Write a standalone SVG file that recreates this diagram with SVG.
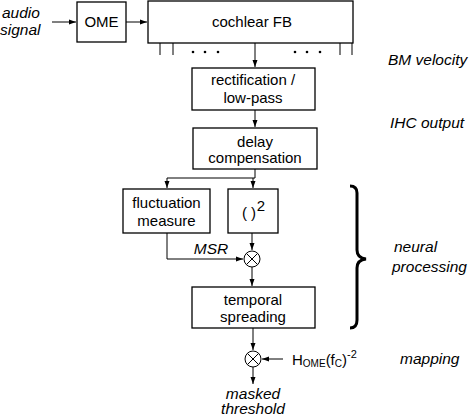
<svg xmlns="http://www.w3.org/2000/svg" width="474" height="418" viewBox="0 0 474 418">
<style>
.box{fill:#fff;stroke:#000;stroke-width:1.3}
.t{font-family:"Liberation Sans",Arial,sans-serif;font-size:15px;fill:#000;text-anchor:middle}
.i{font-family:"Liberation Sans",Arial,sans-serif;font-size:15.5px;font-style:italic;fill:#000}
.c{fill:none;stroke:#000;stroke-width:1}
</style>
<defs>
<marker id="a" markerWidth="8" markerHeight="8" refX="7" refY="4" orient="auto" markerUnits="userSpaceOnUse">
<path d="M0,1.5 L7,4 L0,6.5 Z" fill="#000"/>
</marker>
</defs>
<rect width="474" height="418" fill="#fff"/>
<g id="input-label">
<text class="i" x="2" y="18">audio</text>
<text class="i" x="0" y="35">signal</text>
</g>
<g id="ome"><rect class="box" x="77" y="2" width="49" height="40"/><text class="t" x="101.5" y="27">OME</text></g>
<g id="cochlear"><rect class="box" x="148" y="1" width="205" height="42"/><text class="t" x="252" y="27">cochlear FB</text></g>
<g id="rect"><rect class="box" x="192" y="68" width="123" height="42"/><text class="t" x="253" y="85">rectification /</text><text class="t" x="253" y="103">low-pass</text></g>
<g id="delay"><rect class="box" x="193" y="128" width="124" height="41"/><text class="t" x="255" y="147">delay</text><text class="t" x="255" y="163">compensation</text></g>
<g id="fluct"><rect class="box" x="123" y="189" width="87" height="44"/><text class="t" x="166.5" y="208">fluctuation</text><text class="t" x="166.5" y="226">measure</text></g>
<g id="square"><rect class="box" x="228" y="189" width="50" height="44"/><text class="t" x="249" y="218">( )</text><text class="t" x="261" y="211" font-size="11">2</text></g>
<g id="mult1"><circle class="c" cx="252" cy="259" r="8"/><path class="c" d="M246.5,253.5 L257.5,264.5 M257.5,253.5 L246.5,264.5"/></g>
<g id="temporal"><rect class="box" x="192" y="287" width="123" height="41"/><text class="t" x="253" y="305">temporal</text><text class="t" x="253" y="322">spreading</text></g>
<g id="mult2"><circle class="c" cx="253" cy="359" r="8"/><path class="c" d="M247.5,353.5 L258.5,364.5 M258.5,353.5 L247.5,364.5"/></g>
<g id="hterm"><text font-family="Liberation Sans,Arial,sans-serif" font-size="15" x="292" y="365">H<tspan font-size="10" dy="2">OME</tspan><tspan dy="-2">(f</tspan><tspan font-size="10" dy="2">C</tspan><tspan dy="-2">)</tspan><tspan font-size="11" dy="-7">-2</tspan></text></g>
<g id="output-label"><text class="i" x="253" y="399" text-anchor="middle">masked</text><text class="i" x="253" y="414" text-anchor="middle">threshold</text></g>
<g id="side-labels">
<text class="i" x="388" y="65">BM velocity</text>
<text class="i" x="390" y="128">IHC output</text>
<text class="i" x="394" y="252">neural</text>
<text class="i" x="392" y="272">processing</text>
<text class="i" x="400" y="364">mapping</text>
<text class="i" x="211" y="254" text-anchor="middle">MSR</text>
</g>
<g id="brace"><path d="M350,186 Q357,186 357,193 L357,250 Q357,258 366,259 Q357,260 357,268 L357,320 Q357,328 350,328" fill="none" stroke="#000" stroke-width="3"/></g>
<g id="connectors">
<path class="c" d="M52,22 L76,22" marker-end="url(#a)"/>
<path class="c" d="M126,22 L147,22" marker-end="url(#a)"/>
<path class="c" d="M160,43 V55 M173,43 V55 M340,43 V55 M352,43 V55"/>
<g fill="#000"><circle cx="193" cy="52" r="1.3"/><circle cx="205" cy="52" r="1.3"/><circle cx="218" cy="52" r="1.3"/><circle cx="295" cy="52" r="1.3"/><circle cx="307" cy="52" r="1.3"/><circle cx="320" cy="52" r="1.3"/></g>
<path class="c" d="M255,43 V67" marker-end="url(#a)"/>
<path class="c" d="M255,110 V127" marker-end="url(#a)"/>
<path class="c" d="M255,169 V178 H167 V188" marker-end="url(#a)"/>
<path class="c" d="M253,178 V188" marker-end="url(#a)"/>
<path class="c" d="M252,233 V250" marker-end="url(#a)"/>
<path class="c" d="M167,233 V259 H243" marker-end="url(#a)"/>
<path class="c" d="M252,267 V286" marker-end="url(#a)"/>
<path class="c" d="M253,328 V350" marker-end="url(#a)"/>
<path class="c" d="M283,359 H262" marker-end="url(#a)"/>
<path class="c" d="M253,367 V384" marker-end="url(#a)"/>
</g>
</svg>
